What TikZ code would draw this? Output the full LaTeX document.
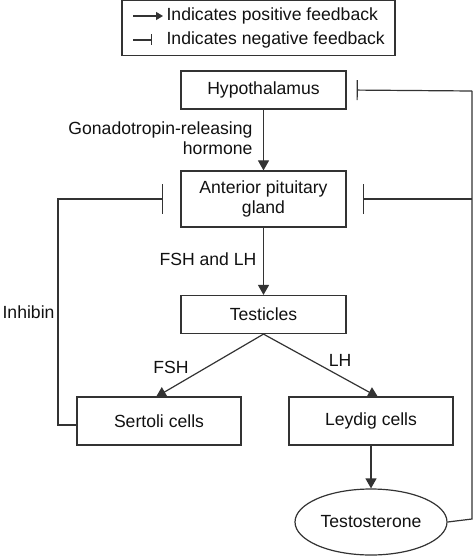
\documentclass[tikz,border=0pt]{standalone}
\usepackage{fontspec}
\setmainfont{Liberation Sans}
\usetikzlibrary{arrows.meta,shapes.geometric}
\definecolor{ln}{HTML}{333333}
\definecolor{tx}{HTML}{111111}
\begin{document}
\begin{tikzpicture}[x=1pt,y=-1pt,
  font=\fontsize{17.6}{21}\selectfont,
  line width=1.2pt,
  color=ln,
  every node/.style={text=tx},
  box/.style={draw=ln,rectangle,inner sep=0pt,minimum width=165pt,minimum height=38pt,align=center},
  posarr/.style={-{Triangle[width=11pt,length=10pt]}},
  negarr/.style={-{Bar[width=#1]}},
  lbl/.style={inner sep=0pt}]
\useasboundingbox (0,0) rectangle (474,556);
% legend
\node[draw=ln,rectangle,inner sep=0pt,minimum width=273pt,minimum height=55pt] (legend) at (258.5,28) {};
\coordinate (la1) at (133,16);
\coordinate (la2) at (163,16);
\coordinate (lb1) at (133,40);
\coordinate (lb2) at (152,40);
\draw[-{Triangle[width=8pt,length=7pt]}] (la1) -- (la2);
\draw[negarr=11pt] (lb1) -- (lb2);
\node[lbl,anchor=west] (lt1) at (166,16) {Indicates positive feedback};
\node[lbl,anchor=west] (lt2) at (166,40) {Indicates negative feedback};
% boxes
\node[box] (hyp) at (263.5,90) {Hypothalamus};
\node[box,minimum height=56pt] (pit) at (263.5,199) {Anterior pituitary\\[-1pt]gland};
\node[box] (tes) at (263.5,314.5) {Testicles};
\node[box,minimum width=164pt,minimum height=48pt] (ser) at (159,421) {Sertoli cells};
\node[box,minimum width=164pt,minimum height=48pt] (ley) at (371,421) {Leydig cells};
\node[draw=ln,ellipse,inner sep=0pt,minimum width=152pt,minimum height=66pt] (tst) at (371,522) {Testosterone};
% main arrows
\draw[posarr] (hyp.south) -- (pit.north);
\draw[posarr] (pit.south) -- (tes.north);
\coordinate (sert) at (156,397);
\coordinate (leyt) at (378,397);
\draw[posarr] (tes.south) -- (sert);
\draw[posarr] (tes.south) -- (leyt);
\draw[posarr] (ley.south) -- (tst.north);
% labels
\node[lbl,anchor=east,align=right] (grh) at (253,138) {Gonadotropin-releasing\\[-1pt]hormone};
\node[lbl,anchor=east] (fl) at (257,259) {FSH and LH};
\node[lbl] (fsh) at (171,367) {FSH};
\node[lbl] (lh) at (340,360) {LH};
\node[lbl,anchor=west] (inh) at (2,312) {Inhibin};
% feedback
\coordinate (rtop) at (472,91);
\coordinate (rmid) at (472,199);
\coordinate (rbot) at (472,519);
\coordinate (lmid) at (58,199);
\coordinate (lbot) at (58,425);
\draw (tst.east) -- (rbot) -- (rtop);
\draw[negarr=20pt,shorten >=10pt] (rtop) -- (hyp.east);
\draw[negarr=30pt,shorten >=16pt] (rmid) -- (pit.east);
\draw[negarr=30pt,shorten >=17pt] (ser.west |- lbot) -- (lbot) -- (lmid) -- (pit.west);
\end{tikzpicture}
\end{document}
